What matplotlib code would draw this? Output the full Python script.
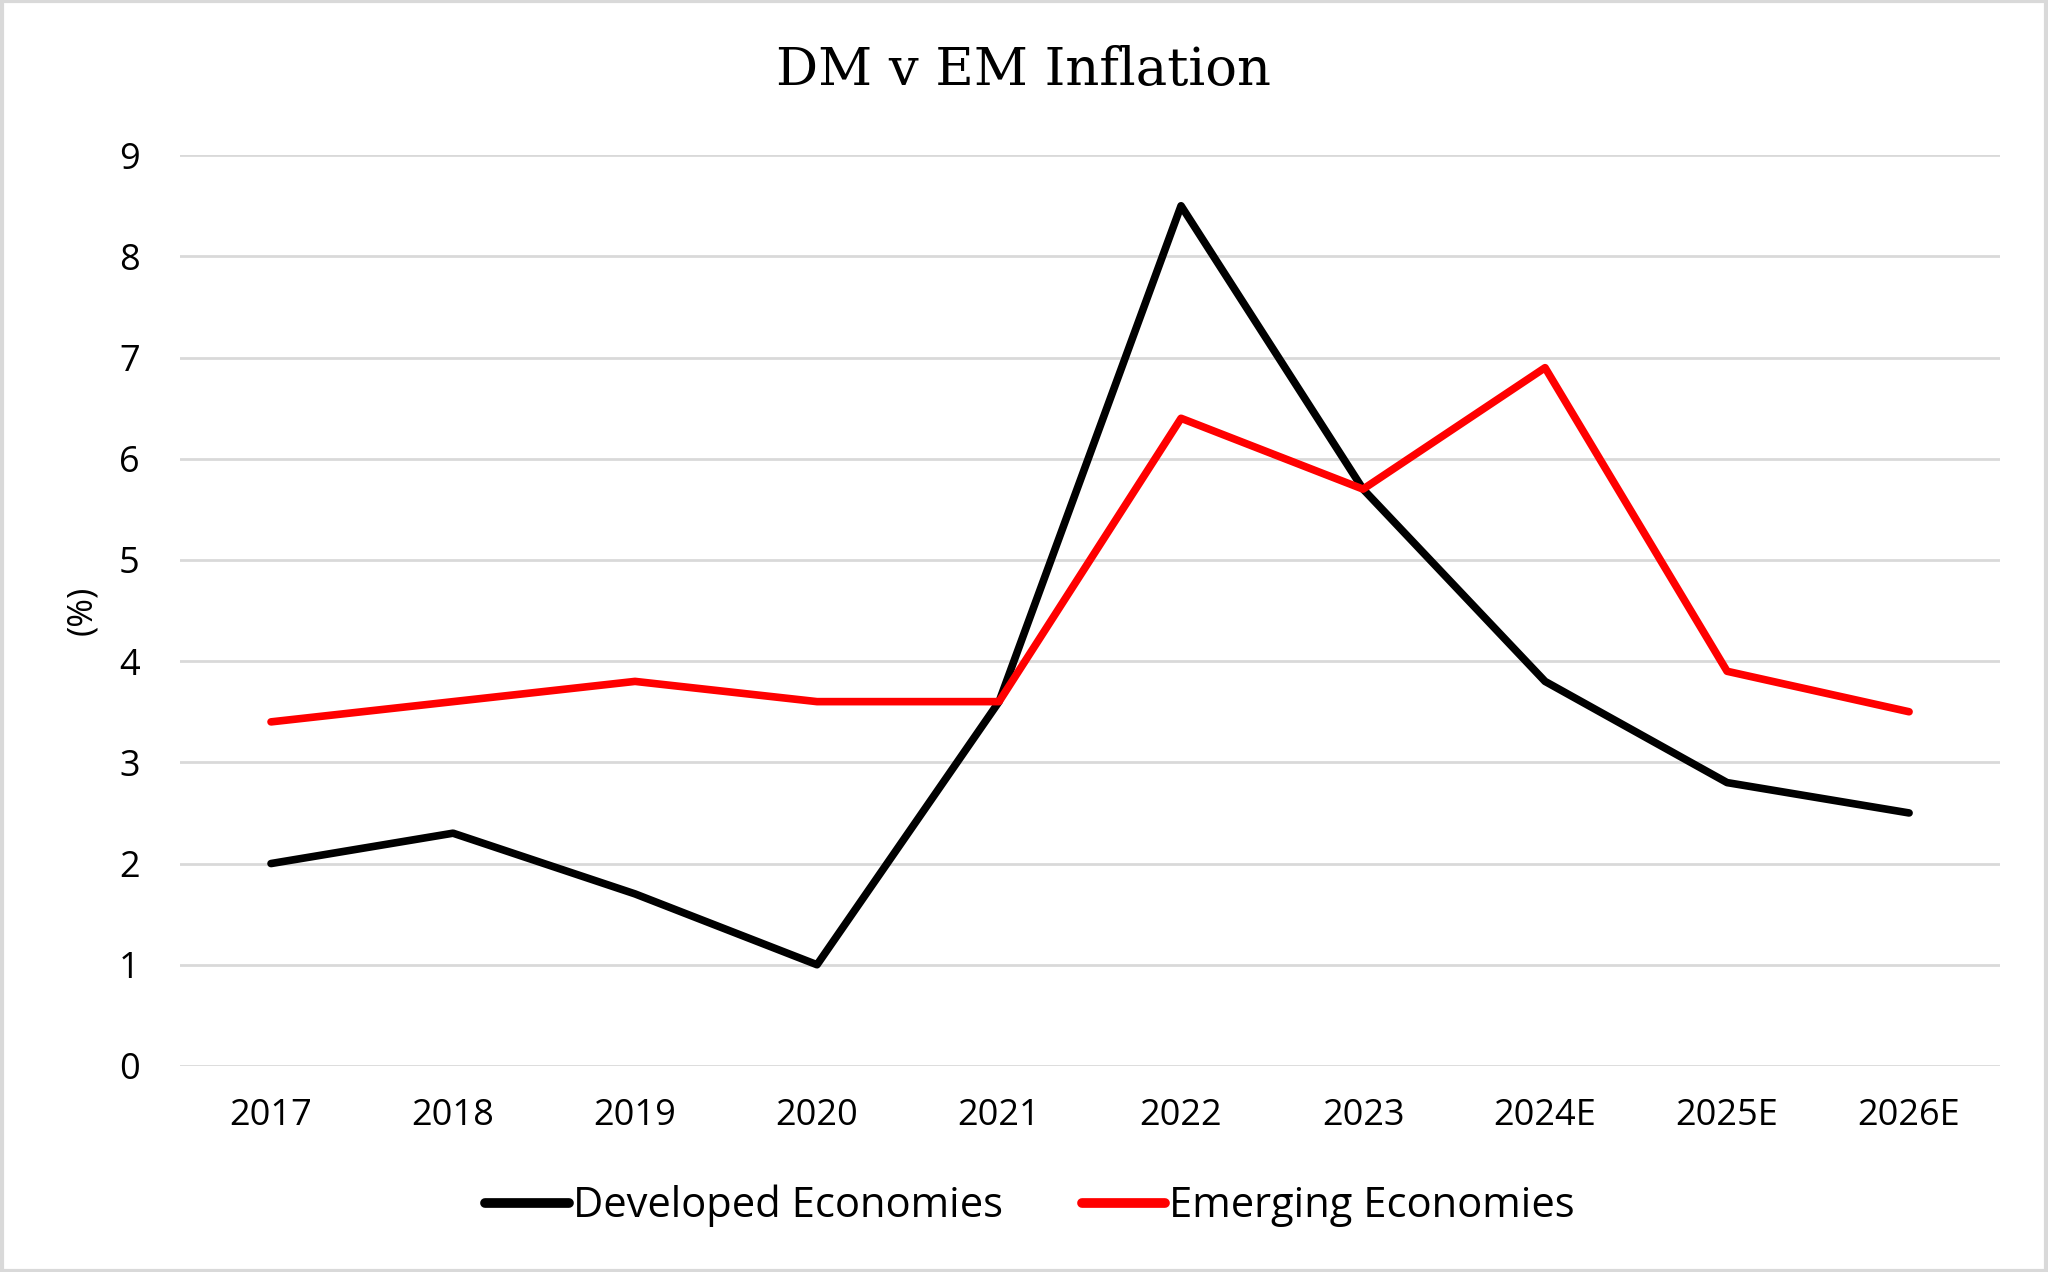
import matplotlib
matplotlib.use("Agg")
import matplotlib.pyplot as plt
from matplotlib.patches import Rectangle

# Chart data
years = ["2017", "2018", "2019", "2020", "2021", "2022", "2023", "2024E", "2025E", "2026E"]
developed = [2.0, 2.3, 1.7, 1.0, 3.6, 8.5, 5.7, 3.8, 2.8, 2.5]
emerging = [3.4, 3.6, 3.8, 3.6, 3.6, 6.4, 5.7, 6.9, 3.9, 3.5]
y_ticks = list(range(0, 10))

plt.rcParams['font.family'] = ['Open Sans', 'DejaVu Sans']

fig = plt.figure(figsize=(20.48, 12.72), dpi=100)
ax = fig.add_axes([0.0879, 0.162, 0.8887, 0.716])

x = list(range(len(years)))
ax.plot(x, developed, color='black', linewidth=5.5, label='Developed Economies',
        solid_joinstyle='round', solid_capstyle='round')
ax.plot(x, emerging, color='#ff0000', linewidth=5.5, label='Emerging Economies',
        solid_joinstyle='round', solid_capstyle='round')

ax.set_xlim(-0.5, len(years) - 0.5)
ax.set_ylim(0, 9)
ax.set_xticks(x)
ax.set_xticklabels(years)
ax.set_yticks(y_ticks)
ax.tick_params(axis='both', length=0, labelsize=26, colors='black')
ax.tick_params(axis='x', pad=23)
ax.tick_params(axis='y', pad=29)

ax.grid(axis='y', color='#d9d9d9', linewidth=2)
ax.set_axisbelow(True)
for s in ax.spines.values():
    s.set_visible(False)

ax.set_ylabel('(%)', fontsize=25)
ax.yaxis.set_label_coords(-0.0444, 0.5)
fig.suptitle('DM v EM Inflation', fontsize=38, family='DejaVu Serif', y=0.965)

leg = ax.legend(loc='center', bbox_to_anchor=(0.503, 0.052), bbox_transform=fig.transFigure,
                ncol=2, frameon=False, fontsize=30, handlelength=2.0, handletextpad=0.1,
                columnspacing=1.9)
for h in leg.get_lines():
    h.set_linewidth(7)

fig.patches.append(Rectangle((0.001, 0.001), 0.998, 0.998, transform=fig.transFigure,
                             fill=False, edgecolor='#d9d9d9', linewidth=3))

fig.savefig('out.png', dpi=100)
